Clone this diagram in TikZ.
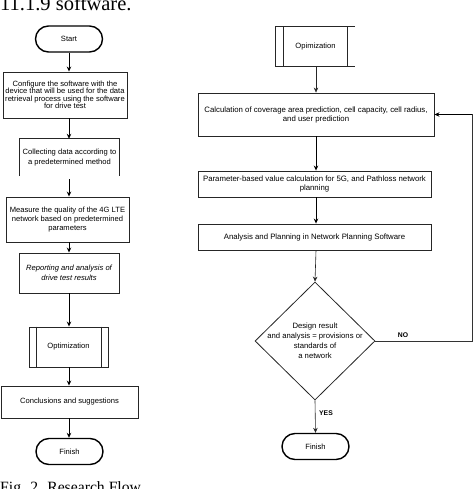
\documentclass[tikz,border=0pt]{standalone}
\usepackage{fontspec}
\setmainfont{Liberation Serif}
\setsansfont{Liberation Sans}
\usetikzlibrary{shapes.misc,shapes.geometric,arrows.meta}
\begin{document}
\begin{tikzpicture}[x=1pt,y=-1pt,
  txt/.style={font=\sffamily\fontsize{7.6}{9}\selectfont,align=center,inner sep=0pt},
  box/.style={txt,draw=black!85,line width=0.9pt,rectangle},
  nobox/.style={txt,rectangle},
  term/.style={txt,draw=black,line width=1.4pt,rounded rectangle,minimum width=67pt,minimum height=26pt},
  arr/.style={-{Stealth[length=5pt,width=4.5pt]},line width=1pt},
  thinarr/.style={-{Stealth[length=5pt,width=4.5pt]},line width=0.6pt,draw=black!85},
  brd/.style={draw=black!85,line width=0.9pt},
  lbl/.style={font=\sffamily\bfseries\fontsize{6.8}{7}\selectfont,inner sep=0pt}]
\useasboundingbox (0,0) rectangle (474,489);
% title and caption
\node[anchor=base west,inner sep=0pt,font=\fontsize{20.5}{21}\selectfont] (title) at (0,11) {11.1.9 software.};
\node[anchor=base west,inner sep=0pt,font=\fontsize{15.7}{16}\selectfont] (cap) at (0,492) {Fig. 2. Research Flow};
% left column
\node[term] (start) at (69,39) {Start};
\node[box,minimum width=124pt,minimum height=46pt,font=\sffamily\fontsize{7.6}{7.5}\selectfont] (b1) at (65,95)
  {Configure the software with the\\device that will be used for the data\\retrieval process using the software\\for drive test};
\node[nobox,minimum width=99pt,minimum height=37pt,font=\sffamily\fontsize{7.6}{10}\selectfont] (b2) at (69.5,157.5)
  {Collecting data according to\\a predetermined method};
\draw[brd] (b2.south west) -- (b2.north west) -- (b2.north east) -- (b2.south east);
\node[box,minimum width=123pt,minimum height=45pt,font=\sffamily\fontsize{7.6}{8.6}\selectfont] (b3) at (67.5,219.5)
  {Measure the quality of the 4G LTE\\network based on predetermined\\parameters};
\node[box,minimum width=100pt,minimum height=40pt,font=\sffamily\itshape\fontsize{7.6}{10}\selectfont] (b4) at (69,273)
  {Reporting and analysis of\\drive test results};
\node[box,minimum width=79pt,minimum height=40pt] (opt1) at (68.5,347) {Optimization};
\draw[brd] ([xshift=8pt]opt1.north west) -- ([xshift=8pt]opt1.south west);
\draw[brd] ([xshift=-7pt]opt1.north east) -- ([xshift=-7pt]opt1.south east);
\node[box,minimum width=137pt,minimum height=32pt] (b6) at (69.5,402) {Conclusions and suggestions};
\node[term] (fin1) at (69.5,451.5) {Finish};
\draw[arr] (start.south) -- (start.south |- b1.north);
\draw[arr] (start.south |- b1.south) -- (start.south |- b2.north);
\draw[arr] (start.south |- b2.south) ++(0,3) -- (start.south |- b3.north);
\draw[arr] (start.south |- b3.south) -- (start.south |- b4.north);
\draw[arr] (start.south |- b4.south) -- (start.south |- opt1.north);
\draw[arr] (start.south |- opt1.south) -- (start.south |- b6.north);
\draw[arr] (start.south |- b6.south) -- (start.south |- fin1.north);
% right column
\node[nobox,minimum width=79pt,minimum height=39pt] (opt2) at (315.5,46.5) {Opimization};
\draw[brd] (opt2.north east) -- (opt2.north west) -- (opt2.south west) -- (opt2.south east);
\draw[brd] ([xshift=8pt]opt2.north west) -- ([xshift=8pt]opt2.south west);
\draw[brd] ([xshift=-8pt]opt2.north east) -- ([xshift=-8pt]opt2.south east);
\node[box,minimum width=236pt,minimum height=43pt,font=\sffamily\fontsize{7.8}{9}\selectfont] (c1) at (316,114.5)
  {Calculation of coverage area prediction, cell capacity, cell radius,\\and user prediction};
\node[box,minimum width=233pt,minimum height=26pt,font=\sffamily\fontsize{7.8}{9}\selectfont] (c2) at (314.5,184)
  {Parameter-based value calculation for 5G, and Pathloss network\\planning};
\node[box,minimum width=233pt,minimum height=26pt,font=\sffamily\fontsize{7.8}{9}\selectfont] (c3) at (314.5,237)
  {Analysis and Planning in Network Planning Software};
\node[diamond,draw=black!85,line width=0.8pt,minimum width=120pt,minimum height=118pt,inner sep=0pt,
  label={[txt,font=\sffamily\fontsize{7.7}{10}\selectfont]center:Design result\\and analysis = provisions or\\standards of\\a network}] (dia) at (315,341) {};
\node[term] (fin2) at (315.5,446.5) {Finish};
\coordinate (nt) at (472,114.5);
\draw[thinarr] (opt2.south -| c1.north) -- (c1.north);
\draw[arr] (c1.south) -- (c1.south |- c2.north);
\draw[arr] (c1.south |- c2.south) -- (c1.south |- c3.north);
\draw[thinarr] (c1.south |- c3.south) -- (dia.north);
\draw[thinarr] (dia.south) -- (fin2.north);
\draw[line width=1pt,draw=black!80] (dia.east) -- (dia.east -| nt) -- (nt);
\draw[arr] (nt) -- (c1.east);
\node[lbl] (no) at (403,335) {NO};
\node[lbl] (yes) at (326,413) {YES};
\end{tikzpicture}
\end{document}
